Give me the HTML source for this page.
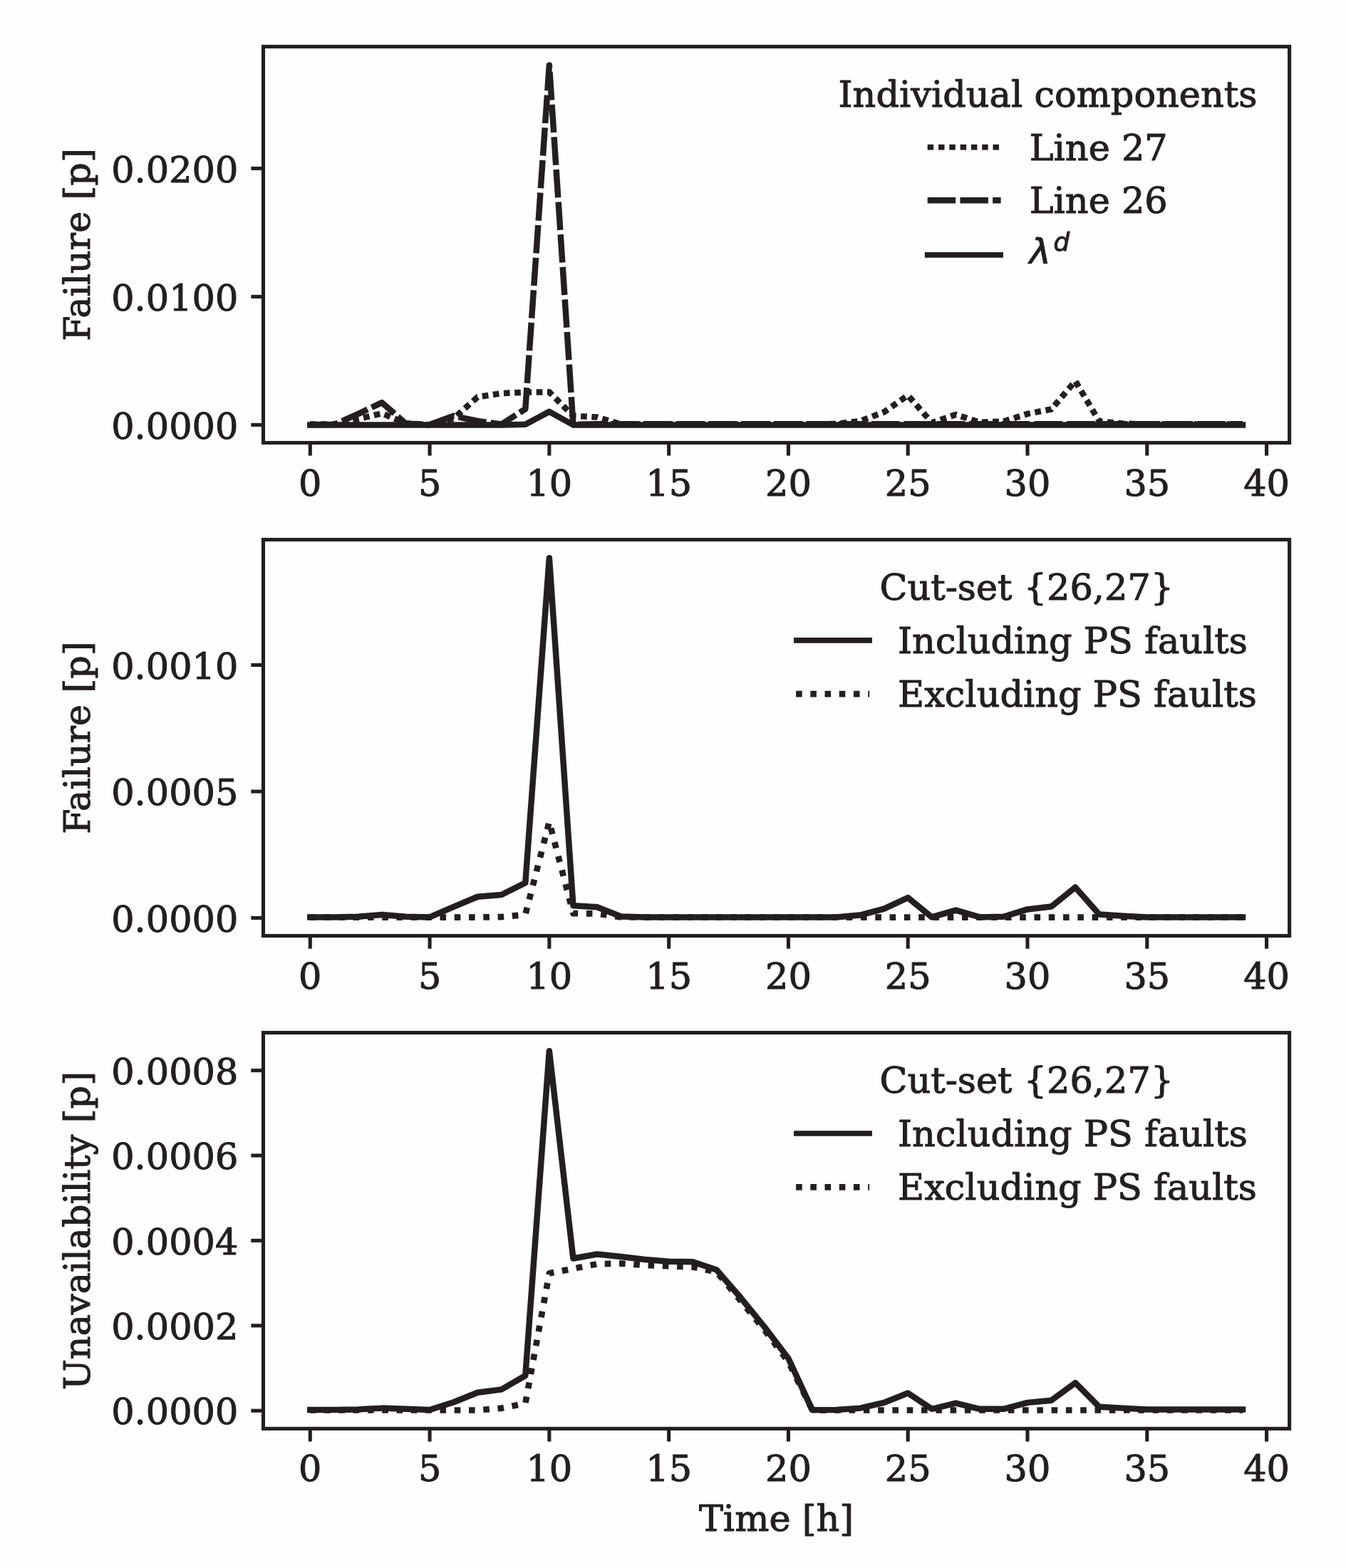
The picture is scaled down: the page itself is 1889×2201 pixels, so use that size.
<!DOCTYPE html>
<html lang="en"><head><meta charset="utf-8"><title>Failure and unavailability over time</title>
<style>
html,body{margin:0;padding:0;background:#fefefe;}
body{width:1889px;height:2201px;overflow:hidden;}
svg{display:block;}
text{font-family:"DejaVu Serif","Liberation Serif",serif;font-size:50.9px;fill:#231f20;stroke:#231f20;stroke-width:1.05px;stroke-linejoin:round;}
.m{font-family:"DejaVu Sans","Liberation Sans",sans-serif;font-style:italic;}
.sp{fill:none;stroke:#231f20;stroke-width:5.1;stroke-linejoin:miter;}
.tk{stroke:#231f20;stroke-width:5.1;fill:none;}
.ln{fill:none;stroke:#231f20;stroke-width:7.7;stroke-linejoin:round;}
.sol{stroke-linecap:square;}
</style></head><body>
<svg width="1889" height="2201" viewBox="0 0 1889 2201">
<rect x="0" y="0" width="1889" height="2201" fill="#fefefe"/>
<g id="panel1">
<polyline class="ln" style="stroke-width:8.5px;stroke-dasharray:8.7 6.555;stroke-dashoffset:0.5" points="435.30,595.50 468.86,595.50 502.41,588.30 535.97,580.20 569.52,594.24 603.08,596.40 636.64,587.40 670.19,557.34 703.75,552.12 737.30,550.68 770.86,550.32 804.42,583.80 837.97,585.60 871.53,595.50 905.08,595.50 938.64,595.50 972.20,595.50 1005.75,595.50 1039.31,595.50 1072.86,595.50 1106.42,595.50 1139.98,595.50 1173.53,594.96 1207.09,591.00 1240.64,578.40 1274.20,555.00 1307.76,593.16 1341.31,582.00 1374.87,592.80 1408.42,591.54 1441.98,580.92 1475.54,574.44 1509.09,534.84 1542.65,591.36 1576.20,594.60 1609.76,595.50 1643.32,595.50 1676.87,595.50 1710.43,595.50 1743.98,595.50"/>
<polyline class="ln" style="stroke-width:8.5px;stroke-dasharray:39.45 6.27" points="435.30,596.04 468.86,596.04 502.41,581.10 535.97,565.08 569.52,594.60 603.08,596.04 636.64,583.80 670.19,591.00 703.75,595.50 737.30,574.08 770.86,91.41 804.42,595.86 837.97,595.32 871.53,595.32 905.08,595.32 938.64,595.32 972.20,595.32 1005.75,595.32 1039.31,595.32 1072.86,595.32 1106.42,595.32 1139.98,595.32 1173.53,595.32 1207.09,595.32 1240.64,595.32 1274.20,595.32 1307.76,595.32 1341.31,595.32 1374.87,595.32 1408.42,595.32 1441.98,595.32 1475.54,595.32 1509.09,595.32 1542.65,595.32 1576.20,595.32 1609.76,595.32 1643.32,595.32 1676.87,595.32 1710.43,595.32 1743.98,595.32"/>
<polyline class="ln sol" style="stroke-width:8.5px" points="435.30,596.40 468.86,596.40 502.41,596.40 535.97,596.40 569.52,596.40 603.08,596.40 636.64,596.40 670.19,596.40 703.75,596.40 737.30,595.86 770.86,577.86 804.42,596.40 837.97,596.40 871.53,596.40 905.08,596.40 938.64,596.40 972.20,596.40 1005.75,596.40 1039.31,596.40 1072.86,596.40 1106.42,596.40 1139.98,596.40 1173.53,596.40 1207.09,596.40 1240.64,596.40 1274.20,596.40 1307.76,596.40 1341.31,596.40 1374.87,596.40 1408.42,596.40 1441.98,596.40 1475.54,596.40 1509.09,596.40 1542.65,596.40 1576.20,596.40 1609.76,596.40 1643.32,596.40 1676.87,596.40 1710.43,596.40 1743.98,596.40"/>
<line class="tk" x1="435.30" x2="435.30" y1="621.50" y2="639.60"/>
<text x="435.30" y="695.50" text-anchor="middle">0</text>
<line class="tk" x1="603.08" x2="603.08" y1="621.50" y2="639.60"/>
<text x="603.08" y="695.50" text-anchor="middle">5</text>
<line class="tk" x1="770.86" x2="770.86" y1="621.50" y2="639.60"/>
<text x="770.86" y="695.50" text-anchor="middle">10</text>
<line class="tk" x1="938.64" x2="938.64" y1="621.50" y2="639.60"/>
<text x="938.64" y="695.50" text-anchor="middle">15</text>
<line class="tk" x1="1106.42" x2="1106.42" y1="621.50" y2="639.60"/>
<text x="1106.42" y="695.50" text-anchor="middle">20</text>
<line class="tk" x1="1274.20" x2="1274.20" y1="621.50" y2="639.60"/>
<text x="1274.20" y="695.50" text-anchor="middle">25</text>
<line class="tk" x1="1441.98" x2="1441.98" y1="621.50" y2="639.60"/>
<text x="1441.98" y="695.50" text-anchor="middle">30</text>
<line class="tk" x1="1609.76" x2="1609.76" y1="621.50" y2="639.60"/>
<text x="1609.76" y="695.50" text-anchor="middle">35</text>
<line class="tk" x1="1777.54" x2="1777.54" y1="621.50" y2="639.60"/>
<text x="1777.54" y="695.50" text-anchor="middle">40</text>
<line class="tk" x1="352.30" x2="369.50" y1="596.40" y2="596.40"/>
<text x="334.30" y="615.50" text-anchor="end">0.0000</text>
<line class="tk" x1="352.30" x2="369.50" y1="416.40" y2="416.40"/>
<text x="334.30" y="435.50" text-anchor="end">0.0100</text>
<line class="tk" x1="352.30" x2="369.50" y1="236.40" y2="236.40"/>
<text x="334.30" y="255.50" text-anchor="end">0.0200</text>
<rect class="sp" x="369.5" y="65.4" width="1440.10" height="556.10"/>
<text transform="translate(125.5 343.45) rotate(-90)" text-anchor="middle">Failure [p]</text>
</g>
<g id="panel2">
<polyline class="ln sol" style="stroke-width:8.5px" points="435.30,1287.43 468.86,1287.43 502.41,1286.72 535.97,1284.06 569.52,1286.72 603.08,1287.43 636.64,1272.88 670.19,1258.79 703.75,1255.98 737.30,1239.26 770.86,783.16 804.42,1271.32 837.97,1273.31 871.53,1286.51 905.08,1287.43 938.64,1287.43 972.20,1287.43 1005.75,1287.43 1039.31,1287.43 1072.86,1287.43 1106.42,1287.43 1139.98,1287.43 1173.53,1287.43 1207.09,1284.60 1240.64,1275.72 1274.20,1260.10 1307.76,1287.43 1341.31,1277.60 1374.87,1287.43 1408.42,1286.72 1441.98,1276.43 1475.54,1272.53 1509.09,1245.55 1542.65,1283.53 1576.20,1285.66 1609.76,1287.43 1643.32,1287.43 1676.87,1287.43 1710.43,1287.43 1743.98,1287.43"/>
<polyline class="ln" style="stroke-width:8.7px;stroke-dasharray:8.6 11.69;stroke-dashoffset:0.47" points="435.30,1287.54 468.86,1287.54 502.41,1287.54 535.97,1287.54 569.52,1287.54 603.08,1287.54 636.64,1287.54 670.19,1287.54 703.75,1287.08 737.30,1283.88 770.86,1153.60 804.42,1282.11 837.97,1282.46 871.53,1287.43 905.08,1287.54 938.64,1287.54 972.20,1287.54 1005.75,1287.54 1039.31,1287.54 1072.86,1287.54 1106.42,1287.54 1139.98,1287.54 1173.53,1287.54 1207.09,1287.54 1240.64,1287.54 1274.20,1287.54 1307.76,1287.54 1341.31,1287.54 1374.87,1287.54 1408.42,1287.54 1441.98,1287.54 1475.54,1287.54 1509.09,1287.54 1542.65,1287.54 1576.20,1287.54 1609.76,1287.54 1643.32,1287.54 1676.87,1287.54 1710.43,1287.54 1743.98,1287.54"/>
<line class="tk" x1="435.30" x2="435.30" y1="1313.60" y2="1331.70"/>
<text x="435.30" y="1387.60" text-anchor="middle">0</text>
<line class="tk" x1="603.08" x2="603.08" y1="1313.60" y2="1331.70"/>
<text x="603.08" y="1387.60" text-anchor="middle">5</text>
<line class="tk" x1="770.86" x2="770.86" y1="1313.60" y2="1331.70"/>
<text x="770.86" y="1387.60" text-anchor="middle">10</text>
<line class="tk" x1="938.64" x2="938.64" y1="1313.60" y2="1331.70"/>
<text x="938.64" y="1387.60" text-anchor="middle">15</text>
<line class="tk" x1="1106.42" x2="1106.42" y1="1313.60" y2="1331.70"/>
<text x="1106.42" y="1387.60" text-anchor="middle">20</text>
<line class="tk" x1="1274.20" x2="1274.20" y1="1313.60" y2="1331.70"/>
<text x="1274.20" y="1387.60" text-anchor="middle">25</text>
<line class="tk" x1="1441.98" x2="1441.98" y1="1313.60" y2="1331.70"/>
<text x="1441.98" y="1387.60" text-anchor="middle">30</text>
<line class="tk" x1="1609.76" x2="1609.76" y1="1313.60" y2="1331.70"/>
<text x="1609.76" y="1387.60" text-anchor="middle">35</text>
<line class="tk" x1="1777.54" x2="1777.54" y1="1313.60" y2="1331.70"/>
<text x="1777.54" y="1387.60" text-anchor="middle">40</text>
<line class="tk" x1="352.30" x2="369.50" y1="1288.50" y2="1288.50"/>
<text x="334.30" y="1307.60" text-anchor="end">0.0000</text>
<line class="tk" x1="352.30" x2="369.50" y1="1111.00" y2="1111.00"/>
<text x="334.30" y="1130.10" text-anchor="end">0.0005</text>
<line class="tk" x1="352.30" x2="369.50" y1="933.50" y2="933.50"/>
<text x="334.30" y="952.60" text-anchor="end">0.0010</text>
<rect class="sp" x="369.5" y="757.5" width="1440.10" height="556.10"/>
<text transform="translate(125.5 1035.55) rotate(-90)" text-anchor="middle">Failure [p]</text>
</g>
<g id="panel3">
<polyline class="ln sol" style="stroke-width:8.5px" points="435.30,1979.01 468.86,1979.01 502.41,1978.41 535.97,1976.62 569.52,1977.81 603.08,1979.01 636.64,1968.26 670.19,1954.71 703.75,1950.35 737.30,1931.01 770.86,1475.14 804.42,1766.47 837.97,1760.50 871.53,1764.09 905.08,1767.97 938.64,1770.65 972.20,1771.25 1005.75,1782.59 1039.31,1821.40 1072.86,1862.59 1106.42,1906.77 1139.98,1979.13 1173.53,1979.01 1207.09,1976.62 1240.64,1968.86 1274.20,1955.42 1307.76,1977.81 1341.31,1969.57 1374.87,1977.81 1408.42,1977.81 1441.98,1968.86 1475.54,1965.69 1509.09,1941.10 1542.65,1974.71 1576.20,1976.62 1609.76,1978.41 1643.32,1978.41 1676.87,1978.41 1710.43,1978.41 1743.98,1978.41"/>
<polyline class="ln" style="stroke-width:8.7px;stroke-dasharray:8.6 11.69;stroke-dashoffset:0.47" points="435.30,1979.48 468.86,1979.48 502.41,1979.48 535.97,1979.48 569.52,1979.48 603.08,1979.48 636.64,1979.48 670.19,1979.48 703.75,1976.62 737.30,1970.05 770.86,1787.37 804.42,1780.80 837.97,1774.24 871.53,1773.64 905.08,1776.03 938.64,1777.22 972.20,1778.41 1005.75,1785.58 1039.31,1825.58 1072.86,1866.77 1106.42,1911.55 1139.98,1979.30 1173.53,1979.48 1207.09,1979.48 1240.64,1979.48 1274.20,1979.48 1307.76,1979.48 1341.31,1979.48 1374.87,1979.48 1408.42,1979.48 1441.98,1979.48 1475.54,1979.48 1509.09,1979.48 1542.65,1979.48 1576.20,1979.48 1609.76,1979.48 1643.32,1979.48 1676.87,1979.48 1710.43,1979.48 1743.98,1979.48"/>
<line class="tk" x1="435.30" x2="435.30" y1="2005.40" y2="2023.50"/>
<text x="435.30" y="2079.40" text-anchor="middle">0</text>
<line class="tk" x1="603.08" x2="603.08" y1="2005.40" y2="2023.50"/>
<text x="603.08" y="2079.40" text-anchor="middle">5</text>
<line class="tk" x1="770.86" x2="770.86" y1="2005.40" y2="2023.50"/>
<text x="770.86" y="2079.40" text-anchor="middle">10</text>
<line class="tk" x1="938.64" x2="938.64" y1="2005.40" y2="2023.50"/>
<text x="938.64" y="2079.40" text-anchor="middle">15</text>
<line class="tk" x1="1106.42" x2="1106.42" y1="2005.40" y2="2023.50"/>
<text x="1106.42" y="2079.40" text-anchor="middle">20</text>
<line class="tk" x1="1274.20" x2="1274.20" y1="2005.40" y2="2023.50"/>
<text x="1274.20" y="2079.40" text-anchor="middle">25</text>
<line class="tk" x1="1441.98" x2="1441.98" y1="2005.40" y2="2023.50"/>
<text x="1441.98" y="2079.40" text-anchor="middle">30</text>
<line class="tk" x1="1609.76" x2="1609.76" y1="2005.40" y2="2023.50"/>
<text x="1609.76" y="2079.40" text-anchor="middle">35</text>
<line class="tk" x1="1777.54" x2="1777.54" y1="2005.40" y2="2023.50"/>
<text x="1777.54" y="2079.40" text-anchor="middle">40</text>
<line class="tk" x1="352.30" x2="369.50" y1="1980.20" y2="1980.20"/>
<text x="334.30" y="1999.30" text-anchor="end">0.0000</text>
<line class="tk" x1="352.30" x2="369.50" y1="1860.80" y2="1860.80"/>
<text x="334.30" y="1879.90" text-anchor="end">0.0002</text>
<line class="tk" x1="352.30" x2="369.50" y1="1741.40" y2="1741.40"/>
<text x="334.30" y="1760.50" text-anchor="end">0.0004</text>
<line class="tk" x1="352.30" x2="369.50" y1="1622.00" y2="1622.00"/>
<text x="334.30" y="1641.10" text-anchor="end">0.0006</text>
<line class="tk" x1="352.30" x2="369.50" y1="1502.60" y2="1502.60"/>
<text x="334.30" y="1521.70" text-anchor="end">0.0008</text>
<rect class="sp" x="369.5" y="1449.6" width="1440.10" height="555.80"/>
<text transform="translate(125.5 1727.50) rotate(-90)" text-anchor="middle">Unavailability [p]</text>
</g>
<text x="1089.55" y="2148.6" text-anchor="middle">Time [h]</text>
<g id="legend1">
<text x="1176.5" y="150.0">Individual components</text>
<line class="ln" style="stroke-width:7.9px;stroke-dasharray:8.5 6.8" x1="1301.7" x2="1404.6" y1="206.6" y2="206.6"/>
<text x="1444.8" y="224.7">Line 27</text>
<line class="ln" style="stroke-width:8.5px;stroke-dasharray:39.45 6.27" x1="1301.7" x2="1404.6" y1="281.2" y2="281.2"/>
<text x="1444.8" y="299.0">Line 26</text>
<line class="ln sol" x1="1301.7" x2="1404.1" y1="357.8" y2="357.8"/>
<text class="m" transform="translate(1444.7 370.3) scale(1 0.957)">λ</text>
<text class="m" x="1478.5" y="352.3" style="font-size:35.63px">d</text>
</g>
<g id="legend2">
<text x="1234.5" y="841.80">Cut-set {26,27}</text>
<line class="ln sol" x1="1117.9" x2="1220.1" y1="898.90" y2="898.90"/>
<text x="1260" y="916.60">Including PS faults</text>
<line class="ln" style="stroke-width:8.7px;stroke-dasharray:8.6 11.62" x1="1117.1" x2="1220.1" y1="974.20" y2="974.20"/>
<text x="1260" y="991.50">Excluding PS faults</text>
</g>
<g id="legend3">
<text x="1234.5" y="1533.90">Cut-set {26,27}</text>
<line class="ln sol" x1="1117.9" x2="1220.1" y1="1591.00" y2="1591.00"/>
<text x="1260" y="1608.70">Including PS faults</text>
<line class="ln" style="stroke-width:8.7px;stroke-dasharray:8.6 11.62" x1="1117.1" x2="1220.1" y1="1666.30" y2="1666.30"/>
<text x="1260" y="1683.60">Excluding PS faults</text>
</g>
</svg></body></html>
